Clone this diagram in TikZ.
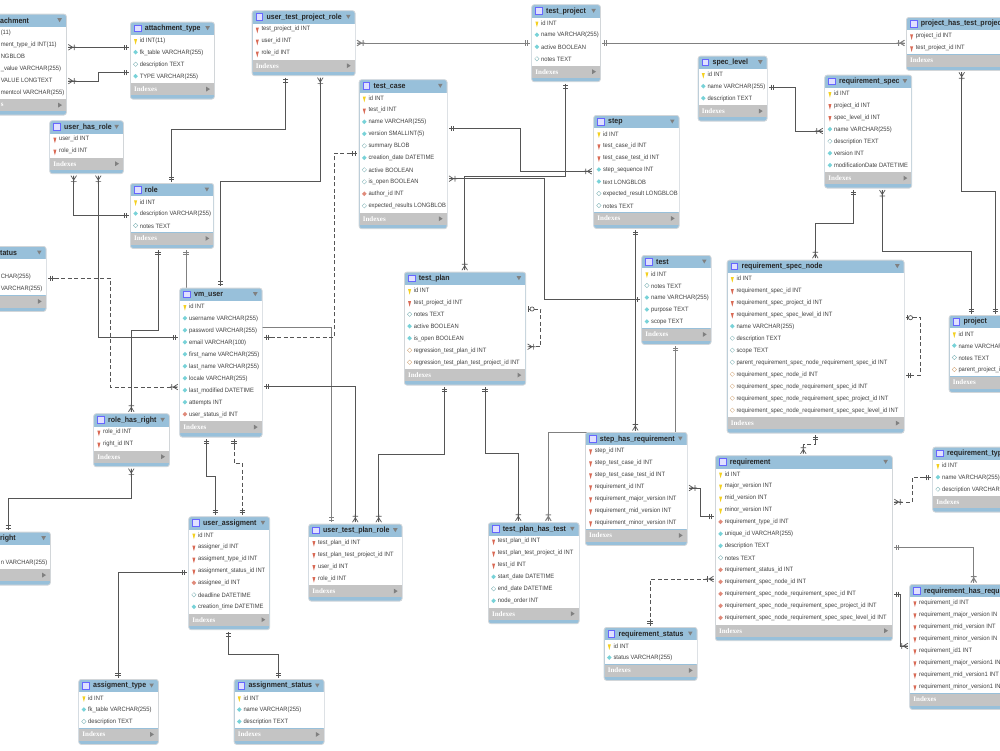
\documentclass[tikz,border=0pt]{standalone}
\usepackage{fontspec}
\setmainfont{Liberation Sans}
\newfontfamily\idxfont{Liberation Serif}
\newfontfamily\rowfont[FakeStretch=.93]{Liberation Sans}
\newfontfamily\titlefont[FakeStretch=.91]{Liberation Sans}
\usetikzlibrary{positioning,backgrounds,shapes.geometric}

\definecolor{barblue}{HTML}{98C0DA}
\definecolor{bandgrey}{HTML}{C4C4C4}
\definecolor{rimgrey}{HTML}{D2D6D9}
\definecolor{relgrey}{HTML}{555555}
\definecolor{iconcyan}{HTML}{78D2D8}
\definecolor{iconred}{HTML}{D96A55}
\definecolor{iconsalmon}{HTML}{E08A7A}
\definecolor{iconyellow}{HTML}{F4D020}

\tikzstyle{TableBase}=[rectangle, rounded corners=2.5pt, draw=rimgrey, line width=.8pt, fill=barblue, inner sep=0pt, anchor=north west]
\tikzstyle{RowBand}=[rectangle, fill=white, inner sep=0pt]
\tikzstyle{IndexBand}=[rectangle, fill=bandgrey, inner sep=0pt, minimum height=12pt]
\tikzstyle{TitleText}=[inner sep=0pt, anchor=west, text=black!85, font=\fontsize{7.7}{8}\selectfont\titlefont\bfseries]
\tikzstyle{RowText}=[inner sep=0pt, anchor=west, text=black!75, font=\fontsize{6.25}{7}\selectfont\rowfont]
\tikzstyle{IndexText}=[inner sep=0pt, anchor=west, text=white, font=\fontsize{7}{8}\selectfont\idxfont\bfseries]
\tikzstyle{IconKey}=[isosceles triangle, isosceles triangle stretches, shape border rotate=-90, inner sep=0pt, minimum width=3pt, minimum height=5.6pt]
\tikzstyle{IconPk}=[IconKey, fill=iconyellow]
\tikzstyle{IconFk}=[IconKey, fill=iconred]
\tikzstyle{IconCy}=[diamond, fill=iconcyan, inner sep=0pt, minimum size=4.8pt]
\tikzstyle{IconWh}=[diamond, fill=white, draw=iconcyan!60!gray, line width=.3pt, inner sep=0pt, minimum size=4.6pt]
\tikzstyle{IconFd}=[diamond, fill=iconsalmon, inner sep=0pt, minimum size=4.8pt]
\tikzstyle{IconOd}=[diamond, fill=white, draw=brown!70, line width=.3pt, inner sep=0pt, minimum size=4.6pt]
\tikzstyle{IconBox}=[rectangle, draw=blue!60, fill=blue!12, line width=.4pt, inner sep=0pt, minimum size=6.4pt]

\pgfarrowsdeclare{ones}{ones}{\pgfarrowsleftextend{-8pt}\pgfarrowsrightextend{0pt}}{
	\pgfsetdash{}{0pt}
	\pgfpathmoveto{\pgfpoint{-2pt}{-2.6pt}}\pgfpathlineto{\pgfpoint{-2pt}{2.6pt}}
	\pgfpathmoveto{\pgfpoint{-4.5pt}{-2.6pt}}\pgfpathlineto{\pgfpoint{-4.5pt}{2.6pt}}
	\pgfpathmoveto{\pgfpoint{-7pt}{0pt}}\pgfpathlineto{\pgfpoint{0pt}{0pt}}
	\pgfusepathqstroke}
\pgfarrowsdeclare{mny}{mny}{\pgfarrowsleftextend{-8pt}\pgfarrowsrightextend{0pt}}{
	\pgfsetdash{}{0pt}
	\pgfpathmoveto{\pgfpoint{0pt}{-2.8pt}}\pgfpathlineto{\pgfpoint{-4.5pt}{0pt}}\pgfpathlineto{\pgfpoint{0pt}{2.8pt}}
	\pgfpathmoveto{\pgfpoint{-6pt}{-2.8pt}}\pgfpathlineto{\pgfpoint{-6pt}{2.8pt}}
	\pgfpathmoveto{\pgfpoint{-8pt}{0pt}}\pgfpathlineto{\pgfpoint{0pt}{0pt}}
	\pgfusepathqstroke}
\pgfarrowsdeclare{zro}{zro}{\pgfarrowsleftextend{-9pt}\pgfarrowsrightextend{0pt}}{
	\pgfsetdash{}{0pt}
	\pgfpathmoveto{\pgfpoint{-1pt}{-2.6pt}}\pgfpathlineto{\pgfpoint{-1pt}{2.6pt}}
	\pgfpathmoveto{\pgfpoint{-9pt}{0pt}}\pgfpathlineto{\pgfpoint{0pt}{0pt}}
	\pgfusepathqstroke
	\pgfsetfillcolor{white}
	\pgfpathcircle{\pgfpoint{-4.5pt}{0pt}}{2.1pt}
	\pgfusepathqfillstroke}

\tikzstyle{Rel}=[draw=relgrey, line width=.7pt, shorten >=1.5pt, shorten <=1.5pt]
\tikzstyle{RelHeavy}=[Rel, draw=black!50, line width=1pt]
\tikzstyle{RelDash}=[Rel, dash pattern=on 4pt off 2.5pt]

\def\rowx{9}
\def\titlex{14.7}
\def\idxx{3.3}
\def\idxlabel{Indexes}

% name, corner, width, number of rows, title, rows
\newcommand{\dbtable}[6]{%
	\pgfmathsetmacro{\tabh}{29+12*#4}
	\pgfmathsetmacro{\rowsh}{12*#4}
	\node[TableBase, minimum width=#3pt, minimum height=\tabh pt] (#1) at (#2) {};
	\node[RowBand, minimum width=#3pt-.8pt, minimum height=\rowsh pt] (#1-rows) [below=13pt of #1.north] {};
	\node[IndexBand, minimum width=#3pt-.8pt] (#1-band) [below=0pt of #1-rows] {};
	\node[IconBox] (#1-box) at ([shift={(7.5,6.5)}]#1.north west) {};
	\node[TitleText] (#1-title) at ([shift={(\titlex,7)}]#1.north west) {#5};
	\node[IndexText] (#1-idx) at ([shift={(\idxx,6)}]#1-band.north west) {\idxlabel};
	\fill[black!50] ([shift={(-9.5,4.5)}]#1.north east) -- ++(4.6,0) -- ++(-2.3,4) -- cycle;
	\fill[black!50] ([shift={(-8,3.6)}]#1-band.north east) -- ++(3.8,2.4) -- ++(-3.8,2.4) -- cycle;
	\foreach \kind/\txt [count=\rownum] in {#6}{
		\node[Icon\kind] at ([shift={(5,{6+12*(\rownum-1)-.5})}]#1-rows.north west) {};
		\node[RowText] (#1-\rownum) at ([shift={(\rowx,{6+12*(\rownum-1)})}]#1-rows.north west) {\txt};
	}
}
\catcode`\_=12

\begin{document}
\begin{tikzpicture}[x=1pt, y=-1pt]
	\path[use as bounding box] (0,0) rectangle (1000,750);
	\clip (0,0) rectangle (1000,750);

	%Tables cut by the left edge
	{\def\rowx{28}\def\titlex{28}\def\idxx{28}\def\idxlabel{s}
	\dbtable{attachment}{-28,13.7}{94}{6}{achment}{Cy/(11), Cy/ment_type_id INT(11), Cy/NGBLOB, Cy/_value VARCHAR(255), Cy/VALUE LONGTEXT, Cy/mentcol VARCHAR(255)}}
	{\def\rowx{28}\def\titlex{28}\def\idxx{28}\def\idxlabel{}
	\dbtable{user_status}{-28,246}{73.7}{3}{tatus}{Cy/, Cy/CHAR(255), Cy/ VARCHAR(255)}
	\dbtable{right}{-28,531.7}{78}{2}{right}{Cy/, Cy/n VARCHAR(255)}}

	%Left part
	\dbtable{attachment_type}{130,21.7}{84}{4}{attachment_type}{Pk/id INT(11), Cy/fk_table VARCHAR(255), Wh/description TEXT, Cy/TYPE VARCHAR(255)}
	\dbtable{user_has_role}{49.3,120.3}{73.7}{2}{user_has_role}{Fk/user_id INT, Fk/role_id INT}
	\dbtable{role}{130,183}{83.3}{3}{role}{Pk/id INT, Cy/description VARCHAR(255), Wh/notes TEXT}
	\dbtable{user_test_project_role}{251.7,10.3}{103}{3}{user_test_project_role}{Fk/test_project_id INT, Fk/user_id INT, Fk/role_id INT}
	\dbtable{vm_user}{179.3,287.7}{82.4}{10}{vm_user}{Pk/id INT, Cy/username VARCHAR(255), Cy/password VARCHAR(255), Cy/email VARCHAR(100), Cy/first_name VARCHAR(255), Cy/last_name VARCHAR(255), Cy/locale VARCHAR(255), Cy/last_modified DATETIME, Cy/attempts INT, Fd/user_status_id INT}
	\dbtable{role_has_right}{93.3,413.3}{75.7}{2}{role_has_right}{Fk/role_id INT, Fk/right_id INT}
	\dbtable{user_assigment}{188.3,516.3}{81}{7}{user_assigment}{Pk/id INT, Fk/assigner_id INT, Fk/assigment_type_id INT, Fk/assignment_status_id INT, Fd/assignee_id INT, Wh/deadline DATETIME, Cy/creation_time DATETIME}
	\dbtable{assigment_type}{78.3,679}{79.7}{3}{assigment_type}{Pk/id INT, Cy/fk_table VARCHAR(255), Wh/description TEXT}
	\dbtable{assignment_status}{233.7,679}{90}{3}{assignment_status}{Pk/id INT, Cy/name VARCHAR(255), Cy/description TEXT}

	%Middle part
	\dbtable{test_project}{531.3,4.3}{68.7}{4}{test_project}{Pk/id INT, Cy/name VARCHAR(255), Cy/active BOOLEAN, Wh/notes TEXT}
	\dbtable{test_case}{358.7,79.3}{88}{10}{test_case}{Pk/id INT, Fk/test_id INT, Cy/name VARCHAR(255), Cy/version SMALLINT(5), Wh/summary BLOB, Cy/creation_date DATETIME, Wh/active BOOLEAN, Wh/is_open BOOLEAN, Fd/author_id INT, Wh/expected_results LONGBLOB}
	\dbtable{step}{593.3,115}{85.4}{7}{step}{Pk/id INT, Fk/test_case_id INT, Fk/test_case_test_id INT, Cy/step_sequence INT, Cy/text LONGBLOB, Wh/expected_result LONGBLOB, Wh/notes TEXT}
	\dbtable{test_plan}{404,271.7}{121.3}{7}{test_plan}{Pk/id INT, Fk/test_project_id INT, Wh/notes TEXT, Cy/active BOOLEAN, Cy/is_open BOOLEAN, Od/regression_test_plan_id INT, Od/regression_test_plan_test_project_id INT}
	\dbtable{test}{641.3,255}{69.4}{5}{test}{Pk/id INT, Wh/notes TEXT, Cy/name VARCHAR(255), Cy/purpose TEXT, Cy/scope TEXT}
	\dbtable{step_has_requirement}{585,432}{101.7}{7}{step_has_requirement}{Fk/step_id INT, Fk/step_test_case_id INT, Fk/step_test_case_test_id INT, Fk/requirement_id INT, Fk/requirement_major_version INT, Fk/requirement_mid_version INT, Fk/requirement_minor_version INT}
	\dbtable{user_test_plan_role}{308.3,523.7}{93.4}{4}{user_test_plan_role}{Fk/test_plan_id INT, Fk/test_plan_test_project_id INT, Fk/user_id INT, Fk/role_id INT}
	\dbtable{test_plan_has_test}{488,522.3}{90.7}{6}{test_plan_has_test}{Fk/test_plan_id INT, Fk/test_plan_test_project_id INT, Fk/test_id INT, Cy/start_date DATETIME, Wh/end_date DATETIME, Cy/node_order INT}
	\dbtable{requirement_status}{603.7,627}{93}{2}{requirement_status}{Pk/id INT, Cy/status VARCHAR(255)}

	%Right part
	\dbtable{spec_level}{697.7,55.7}{69}{3}{spec_level}{Pk/id INT, Cy/name VARCHAR(255), Cy/description TEXT}
	\dbtable{requirement_spec}{824.3,74.7}{87}{7}{requirement_spec}{Pk/id INT, Fk/project_id INT, Fk/spec_level_id INT, Cy/name VARCHAR(255), Wh/description TEXT, Cy/version INT, Cy/modificationDate DATETIME}
	\dbtable{project_has_test_project}{906,17}{120}{2}{project_has_test_projec}{Fk/project_id INT, Fk/test_project_id INT}
	\dbtable{requirement_spec_node}{726.7,259.7}{177}{12}{requirement_spec_node}{Pk/id INT, Fk/requirement_spec_id INT, Fk/requirement_spec_project_id INT, Fk/requirement_spec_spec_level_id INT, Cy/name VARCHAR(255), Wh/description TEXT, Wh/scope TEXT, Wh/parent_requirement_spec_node_requirement_spec_id INT, Od/requirement_spec_node_id INT, Od/requirement_spec_node_requirement_spec_id INT, Od/requirement_spec_node_requirement_spec_project_id INT, Od/requirement_spec_node_requirement_spec_spec_level_id INT}
	\dbtable{project}{948.7,315}{100}{4}{project}{Pk/id INT, Cy/name VARCHAR, Wh/notes TEXT, Od/parent_project_i}
	\dbtable{requirement}{715,455.3}{177}{13}{requirement}{Pk/id INT, Pk/major_version INT, Pk/mid_version INT, Pk/minor_version INT, Fd/requirement_type_id INT, Cy/unique_id VARCHAR(255), Cy/description TEXT, Wh/notes TEXT, Fd/requirement_status_id INT, Fd/requirement_spec_node_id INT, Fd/requirement_spec_node_requirement_spec_id INT, Fd/requirement_spec_node_requirement_spec_project_id INT, Fd/requirement_spec_node_requirement_spec_spec_level_id INT}
	\dbtable{requirement_type}{932.3,446.7}{100}{3}{requirement_typ}{Pk/id INT, Cy/name VARCHAR(255), Wh/description VARCHAR(}
	\dbtable{requirement_has_requirement}{909.3,584}{120}{8}{requirement_has_requ}{Fk/requirement_id INT, Fk/requirement_major_version IN, Fk/requirement_mid_version INT, Fk/requirement_minor_version IN, Fk/requirement_id1 INT, Fk/requirement_major_version1 IN, Fk/requirement_mid_version1 INT, Fk/requirement_minor_version1 IN}

	%Relations, under the tables
	\begin{pgfonlayer}{background}
		\draw[Rel, mny-ones] (attachment.east |- 0,47.3) -- (attachment_type.west |- 0,47.3);
		\draw[Rel, mny-ones] (attachment.east |- 0,81) -- (98.7,81) -- (98.7,72.7) -- (attachment_type.west |- 0,72.7);
		\draw[Rel, ones-ones] (285.7,0 |- user_test_project_role.south) -- (285.7,129.3) -- (171.7,129.3) -- (171.7,0 |- role.north);
		\draw[Rel, mny-ones] (320.3,0 |- user_test_project_role.south) -- (320.3,181.3) -- (220.7,181.3) -- (220.7,0 |- vm_user.north);
		\draw[Rel, mny-ones] (73.7,0 |- user_has_role.south) -- (73.7,215.3) -- (role.west |- 0,215.3);
		\draw[Rel, mny-ones] (98.3,0 |- user_has_role.south) -- (98.3,337.3) -- (vm_user.west |- 0,337.3);
		\draw[Rel, ones-mny] (158,0 |- role.south) -- (158,330) -- (131.3,330) -- (131.3,0 |- role_has_right.north);
		\draw[RelHeavy, ones-ones] (186,0 |- role.south) -- (186,327.3) -- (331.7,327.3) -- (331.7,0 |- user_test_plan_role.north);
		\draw[Rel, ones-mny] (444.3,0 |- test_plan.south) -- (444.3,454.3) -- (378.7,454.3) -- (378.7,0 |- user_test_plan_role.north);
		\draw[Rel, ones-mny] (485,0 |- test_plan.south) -- (485,453) -- (518.3,453) -- (518.3,0 |- test_plan_has_test.north);
		\draw[Rel, ones-mny] (vm_user.east |- 0,386.7) -- (355.3,386.7) -- (355.3,0 |- user_test_plan_role.north);
		\draw[RelDash, ones-ones] (vm_user.east |- 0,337.3) -- (334,337.3) -- (334,153.3) -- (test_case.west |- 0,153.3);
		\draw[RelDash, ones-mny] (user_status.east |- 0,278.3) -- (110.7,278.3) -- (110.7,387) -- (vm_user.west |- 0,387);
		\draw[Rel, ones-ones] (206.7,0 |- vm_user.south) -- (206.7,476.7) -- (215.3,476.7) -- (215.3,0 |- user_assigment.north);
		\draw[RelDash, ones-ones] (234,0 |- vm_user.south) -- (234,463.3) -- (242.3,463.3) -- (242.3,0 |- user_assigment.north);
		\draw[Rel, mny-ones] (131.3,0 |- role_has_right.south) -- (131.3,498.3) -- (8.3,498.3) -- (8.3,0 |- right.north);
		\draw[Rel, ones-ones] (user_assigment.west |- 0,572.3) -- (118,572.3) -- (118,0 |- assigment_type.north);
		\draw[Rel, ones-ones] (228.3,0 |- user_assigment.south) -- (228.3,654) -- (278.7,654) -- (278.7,0 |- assignment_status.north);
		\draw[RelHeavy, ones-mny] (test_project.west |- 0,43) -- (user_test_project_role.east |- 0,43);
		\draw[RelHeavy, ones-mny] (test_project.east |- 0,43) -- (project_has_test_project.west |- 0,43);
		\draw[Rel, ones-mny] (565.3,0 |- test_project.south) -- (565.3,176.7) -- (464.7,176.7) -- (464.7,0 |- test_plan.north);
		\draw[Rel, ones-mny] (test_case.east |- 0,128.7) -- (520.3,128.7) -- (520.3,171.3) -- (step.west |- 0,171.3);
		\draw[Rel, mny-ones] (test_case.east |- 0,178.7) -- (544,178.7) -- (544,299.3) -- (test.west |- 0,299.3);
		\draw[Rel, ones-mny] (635.3,0 |- step.south) -- (635.3,0 |- step_has_requirement.north);
		\draw[RelHeavy, ones-mny] (675.7,0 |- test.south) -- (675.7,432.7) -- (548.3,432.7) -- (548.3,0 |- test_plan_has_test.north);
		\draw[Rel, mny-ones] (step_has_requirement.east |- 0,488) -- (700.7,488) -- (700.7,516.7) -- (requirement.west |- 0,516.7);
		\draw[RelDash, zro-mny] (test_plan.east |- 0,309) -- (540.7,309) -- (540.7,346.7) -- (test_plan.east |- 0,346.7);
		\draw[Rel, ones-mny] (spec_level.east |- 0,87.3) -- (795.7,87.3) -- (795.7,131) -- (requirement_spec.west |- 0,131);
		\draw[Rel, ones-mny] (853.3,0 |- requirement_spec.south) -- (853.3,223.3) -- (815.3,223.3) -- (815.3,0 |- requirement_spec_node.north);
		\draw[Rel, mny-ones] (882.3,0 |- requirement_spec.south) -- (882.3,251) -- (971.5,251) -- (971.5,0 |- project.north);
		\draw[Rel, mny-ones] (961.7,0 |- project_has_test_project.south) -- (961.7,191.7) -- (995.3,191.7) -- (995.3,0 |- project.north);
		\draw[RelDash, zro-ones] (requirement_spec_node.east |- 0,317.7) -- (920.3,317.7) -- (920.3,375.3) -- (requirement_spec_node.east |- 0,375.3);
		\draw[RelDash, ones-mny] (815.3,0 |- requirement_spec_node.south) -- (815.3,444) -- (803.3,444) -- (803.3,0 |- requirement.north);
		\draw[RelDash, ones-mny] (requirement_type.west |- 0,477.7) -- (912,477.7) -- (912,502) -- (requirement.east |- 0,502);
		\draw[RelHeavy, ones-mny] (requirement.east |- 0,547.7) -- (973.7,547.7) -- (973.7,0 |- requirement_has_requirement.north);
		\draw[Rel, ones-mny] (requirement.east |- 0,594.3) -- (900.7,594.3) -- (900.7,646) -- (requirement_has_requirement.west |- 0,646);
		\draw[RelDash, mny-ones] (requirement.west |- 0,579) -- (650,579) -- (650,0 |- requirement_status.north);
	\end{pgfonlayer}
\end{tikzpicture}
\end{document}
